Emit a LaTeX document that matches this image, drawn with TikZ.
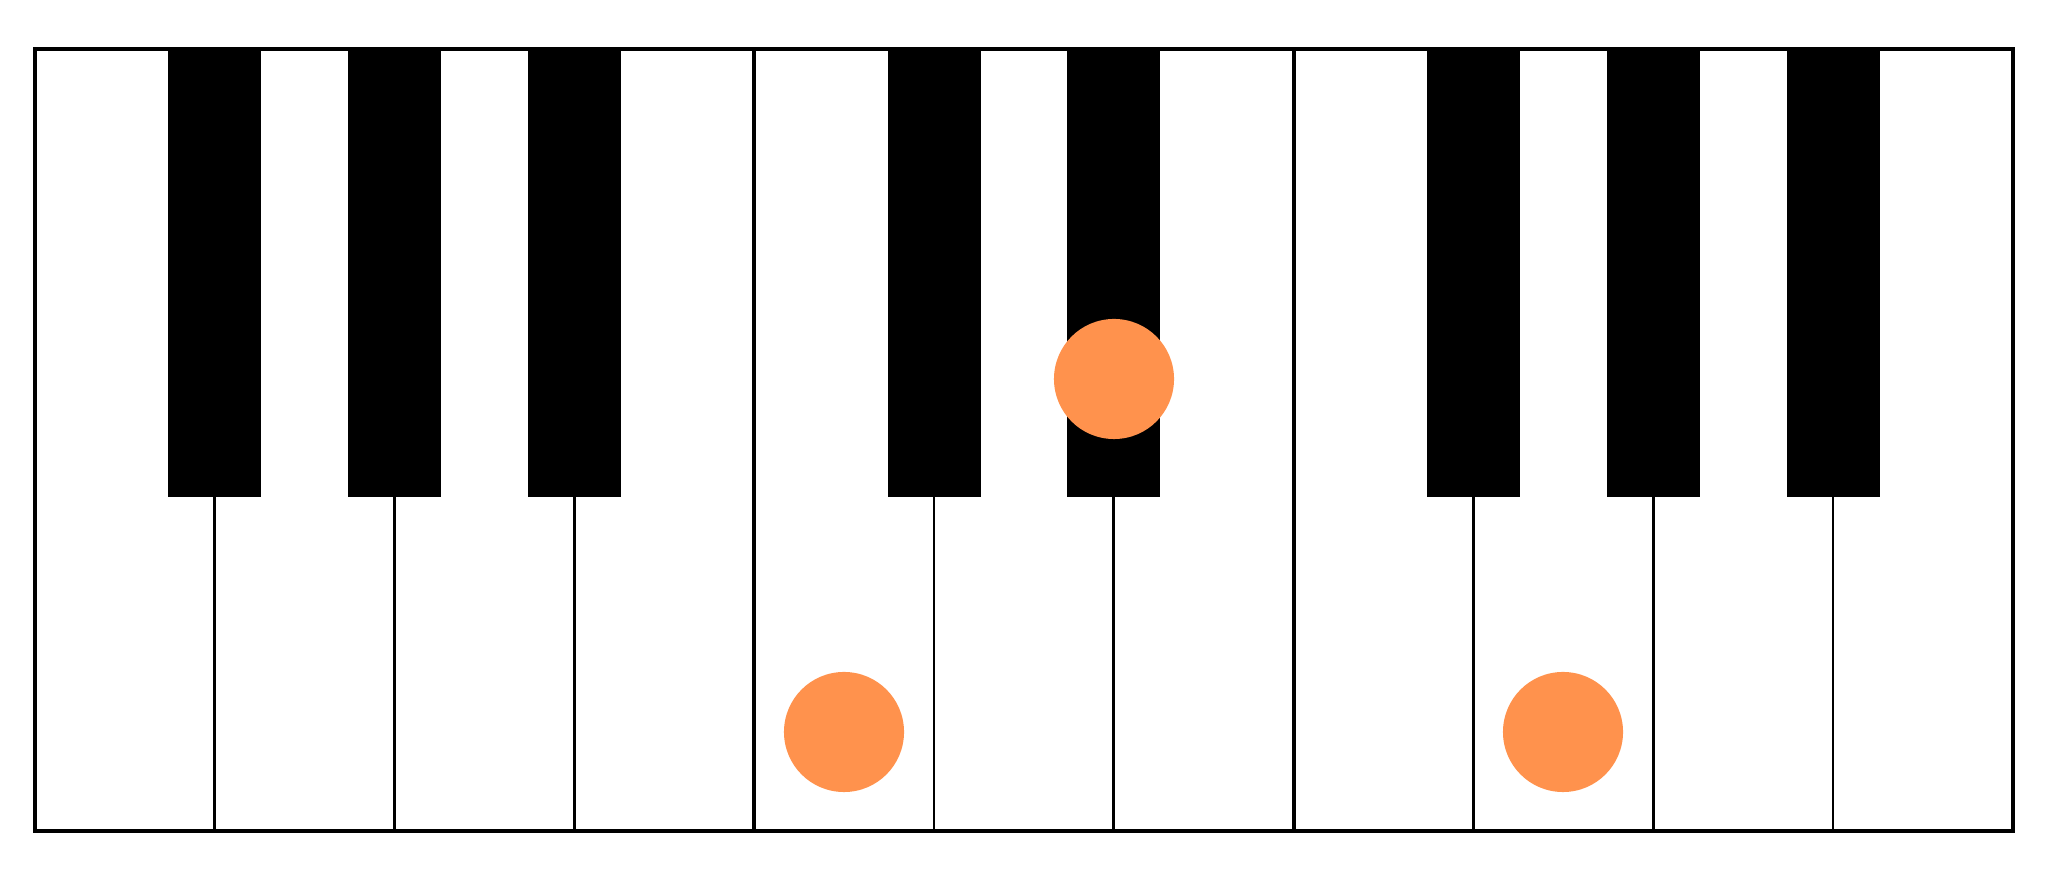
\documentclass[tikz,border=0pt]{standalone}
\definecolor{noteorange}{RGB}{255,146,77}
\begin{document}
\begin{tikzpicture}[x=0.01cm,y=-0.01cm,
        notedot/.style={circle,fill=noteorange,inner sep=0pt,minimum size=1.2cm}]
        \useasboundingbox (0,0) rectangle (2048,880);
        \foreach \x in {1,...,10}
            {
                \draw[line width=0.8pt] (35+\x*179.8,49) -- (35+\x*179.8,831);
            }
        \draw[line width=1.2pt] (754.2,49) -- (754.2,831);
        \draw[line width=1.1pt] (1293.6,49) -- (1293.6,831);
        \draw[line width=1.1pt] (35,49) rectangle (2013,831);

        \foreach \x in {1,2,3,5,6,8,9,10}
            {
                \fill (35+\x*179.8-46.5,49) rectangle (35+\x*179.8+46.5,497);
            }

        \node[notedot] (c) at (844,732){};
        \node[notedot] (es) at (1114,379){};
        \node[notedot] (g) at (1563,732){};
    \end{tikzpicture}
\end{document}
